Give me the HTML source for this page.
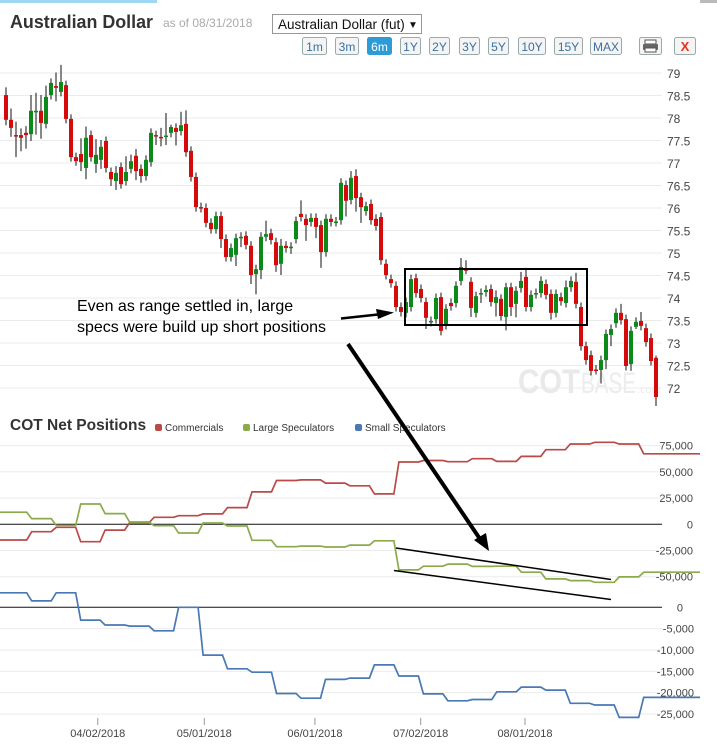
<!DOCTYPE html>
<html><head><meta charset="utf-8">
<style>
body{margin:0;background:#fff;font-family:"Liberation Sans",Arial,sans-serif;}
svg{display:block}
.btn{fill:#f4f4f4;stroke:#9aa;stroke-width:1}
.bt{font-size:12px;fill:#3a6fa0;text-anchor:middle;font-family:"Liberation Sans Narrow","Liberation Sans",sans-serif}
.ax{font-size:12px;fill:#444}
.ax2{font-size:11px;fill:#444;text-anchor:end}
</style></head><body>
<svg id="chart" width="717" height="746" viewBox="0 0 717 746" xmlns="http://www.w3.org/2000/svg">
<rect x="0" y="0" width="157" height="3" fill="#9fd8f5"/>
<rect x="700" y="0" width="17" height="3" fill="#bbb"/>
<text x="10" y="28" font-size="18" font-weight="bold" fill="#333" textLength="143" lengthAdjust="spacingAndGlyphs">Australian Dollar</text>
<text x="163" y="27" font-size="12" fill="#aaa">as of 08/31/2018</text>
<g>
<rect x="272.5" y="14.5" width="149" height="19" fill="#fff" stroke="#999"/>
<text x="278" y="29" font-size="13.5" fill="#111">Australian Dollar (fut)</text>
<text x="408" y="28" font-size="10" fill="#111">▼</text>
</g>
<g id="btns"></g>
<g id="price"></g>
<g id="cot"></g>
</svg>
<script>
// ---------- price data (daily candles) ----------
const opens=[78.51,77.96,77.62,77.62,77.67,77.64,78.13,78.16,77.87,78.51,78.71,78.58,78.73,77.98,77.13,77.20,76.89,77.62,76.98,77.07,77.49,76.80,76.60,76.91,76.60,76.87,77.16,76.87,76.71,77.02,77.62,77.58,77.60,77.67,77.78,77.71,77.87,77.27,76.69,76.02,76.00,75.67,75.53,75.82,75.31,74.91,74.96,75.33,75.38,75.16,74.53,74.62,75.36,75.44,75.24,74.76,75.16,75.13,75.31,75.87,75.76,75.69,75.78,75.62,75.02,75.76,75.69,75.73,76.51,76.18,76.71,76.24,75.93,76.09,75.76,75.80,74.76,74.42,74.27,73.80,73.67,73.80,74.44,74.20,73.91,73.47,73.53,74.02,73.40,73.89,73.89,74.38,74.64,74.36,73.67,74.09,74.13,74.20,73.89,73.98,73.58,74.24,73.87,74.22,74.47,73.80,74.09,74.11,74.31,74.09,73.67,74.02,73.89,74.24,74.36,73.80,72.93,72.73,72.41,72.40,72.62,73.18,73.44,73.67,73.53,72.53,73.36,73.49,73.33,73.11,72.67];
const closes=[77.96,77.78,77.60,77.56,77.62,78.16,78.16,77.89,78.47,78.78,78.67,78.80,77.98,77.13,77.04,77.02,77.56,77.13,77.18,77.36,76.89,76.64,76.78,76.53,76.80,77.04,76.82,76.71,77.07,77.67,77.60,77.57,77.61,77.80,77.69,77.84,77.24,76.69,76.02,76.00,75.67,75.53,75.82,75.31,74.91,75.11,75.33,75.36,75.18,74.51,74.64,75.36,75.42,75.29,74.73,75.16,75.11,75.14,75.71,75.80,75.62,75.78,75.58,75.02,75.76,75.69,75.70,76.56,76.16,76.67,76.22,76.02,76.04,75.73,75.60,74.84,74.51,74.33,73.80,73.69,73.91,74.42,74.11,74.00,73.56,73.49,74.00,73.27,73.76,73.82,74.27,74.69,74.63,73.78,74.04,74.11,74.18,73.91,74.02,73.60,74.24,73.80,74.16,74.38,73.80,74.07,74.11,74.38,74.07,73.67,74.09,73.93,74.24,74.38,73.87,72.93,72.62,72.38,72.40,72.62,73.20,73.31,73.67,73.51,72.49,73.27,73.47,73.38,73.02,72.60,71.80];
const wickUp=[0.17,0.25,0.30,0.15,0.15,0.35,0.40,0.35,0.25,0.10,0.30,0.38,0.10,0.10,0.10,0.35,0.25,0.10,0.35,0.15,0.10,0.10,0.15,0.10,0.35,0.15,0.15,0.10,0.10,0.10,0.10,0.20,0.50,0.05,0.10,0.30,0.30,0.10,0.10,0.10,0.10,0.10,0.10,0.10,0.10,0.10,0.10,0.10,0.10,0.10,0.10,0.10,0.30,0.10,0.10,0.15,0.10,0.10,0.10,0.30,0.10,0.10,0.10,0.10,0.10,0.10,0.10,0.10,0.10,0.15,0.15,0.10,0.10,0.10,0.10,0.10,0.10,0.10,0.10,0.10,0.10,0.10,0.10,0.10,0.10,0.10,0.10,0.10,0.10,0.10,0.10,0.20,0.20,0.10,0.10,0.10,0.10,0.10,0.15,0.10,0.10,0.10,0.10,0.20,0.20,0.10,0.10,0.10,0.10,0.10,0.10,0.10,0.15,0.10,0.20,0.10,0.10,0.10,0.10,0.10,0.10,0.10,0.10,0.20,0.10,0.10,0.10,0.20,0.10,0.10,0.05];
const wickDn=[0.12,0.20,0.47,0.30,0.30,0.15,0.50,0.35,0.10,0.10,0.30,0.10,0.10,0.10,0.10,0.20,0.25,0.10,0.20,0.20,0.10,0.15,0.20,0.10,0.10,0.10,0.20,0.15,0.10,0.10,0.20,0.20,0.20,0.10,0.30,0.10,0.10,0.10,0.10,0.10,0.10,0.10,0.10,0.20,0.10,0.10,0.25,0.20,0.10,0.20,0.45,0.20,0.10,0.10,0.15,0.25,0.10,0.15,0.10,0.10,0.35,0.10,0.25,0.35,0.10,0.10,0.10,0.10,0.35,0.10,0.30,0.35,0.10,0.10,0.10,0.10,0.10,0.10,0.10,0.10,0.10,0.10,0.10,0.10,0.25,0.10,0.10,0.10,0.10,0.10,0.10,0.10,0.10,0.20,0.10,0.20,0.10,0.10,0.30,0.10,0.30,0.20,0.30,0.10,0.10,0.10,0.10,0.10,0.10,0.15,0.10,0.10,0.10,0.10,0.10,0.10,0.10,0.10,0.10,0.30,0.20,0.25,0.10,0.10,0.10,0.15,0.05,0.10,0.10,0.10,0.20,0.05];
const priceTicks=[79,78.5,78,77.5,77,76.5,76,75.5,75,74.5,74,73.5,73,72.5,72];
// ---------- COT data (weekly) ----------
const commercials=[-15000,-7100,-2900,-16600,-5500,1500,6700,8200,9900,15900,30900,41800,42400,39300,36700,29000,59400,60900,59700,62600,60000,64800,71200,76600,78200,76600,67300];
const largeSpec=[11500,5400,-1000,19400,10200,2200,-1300,-8300,1200,-1600,-15300,-21400,-20800,-21700,-19800,-15700,-43500,-40000,-38000,-40200,-40000,-45700,-52100,-53700,-55300,-50200,-45700];
const smallSpec=[3400,1500,3400,-3000,-4150,-4400,-5500,0,-11200,-14400,-15200,-20200,-21300,-16900,-16600,-13500,-16100,-20300,-21900,-21600,-19800,-18700,-19400,-22500,-22900,-25800,-21100];
const upperTicks=[75000,50000,25000,0,-25000,-50000];
const lowerTicks=[0,-5000,-10000,-15000,-20000,-25000];
const dateLabels=["04/02/2018","05/01/2018","06/01/2018","07/02/2018","08/01/2018"];
const dateWeekPos=[3.7,8.05,12.57,16.89,21.15];
const rangeNames=["1m","3m","6m","1Y","2Y","3Y","5Y","10Y","15Y","MAX"];

const NS="http://www.w3.org/2000/svg";
function mk(tag,attrs,parent){const e=document.createElementNS(NS,tag);for(const k in attrs)e.setAttribute(k,attrs[k]);parent.appendChild(e);return e;}

// buttons
const bg=document.getElementById('btns');
const bx=[302,335,367,400,429,459,488,518,554,590],bw=[24,23,24,20,20,20,20,27,28,31];
rangeNames.forEach((n,i)=>{
  const g=mk('g',{},bg);
  
  
  const act=n==="6m";
  mk('rect',{x:bx[i]+.5,y:37.5,width:bw[i],height:17,rx:2,class:'btn',style:act?'fill:#2d9bd6;stroke:#2d9bd6':''},g);
  const t=mk('text',{x:bx[i]+bw[i]/2+.5,y:51,class:'bt',style:act?'fill:#fff':''},g);t.textContent=n;
});
{const g=mk('g',{},bg);
mk('rect',{x:639.5,y:37.5,width:22,height:17,rx:2,class:'btn'},g);
mk('rect',{x:645,y:40,width:11,height:4,fill:'#fff',stroke:'#555'},g);
mk('rect',{x:643,y:44,width:15,height:6,rx:1,fill:'#666'},g);
mk('rect',{x:645,y:48,width:11,height:4,fill:'#fff',stroke:'#555'},g);}
{const g=mk('g',{},bg);
mk('rect',{x:674.5,y:37.5,width:21,height:17,rx:2,class:'btn'},g);
const t=mk('text',{x:685,y:51,'text-anchor':'middle','font-size':13,'font-weight':'bold',fill:'#e8301c'},g);t.textContent="X";}

// price chart
const pg=document.getElementById('price');
const py=v=>73+(79-v)*45;
const px=i=>6+5*i;
priceTicks.forEach(v=>{
  const l=mk('line',{x1:0,x2:662,y1:py(v),y2:py(v),stroke:'#ebebeb','stroke-width':1},pg);
  
  const t=mk('text',{x:667,y:py(v)+5,class:'ax','font-size':13},pg);t.textContent=String(v);
  
});
// watermark
{const t=mk('text',{x:518,y:393,'font-size':34,'font-weight':'bold',fill:'#e9e9e9',textLength:62,lengthAdjust:'spacingAndGlyphs'},pg);t.textContent="COT";

const t2=mk('text',{x:581,y:393,'font-size':30,fill:'#ececec',textLength:55,lengthAdjust:'spacingAndGlyphs'},pg);t2.textContent="BASE";
const t3=mk('text',{x:637,y:393,'font-size':11,fill:'#ececec'},pg);t3.textContent=".com";}
opens.forEach((o,i)=>{
  const c=closes[i],up=c>=o,col=up?'#0b8a1a':'#d50a0a';
  const hi=Math.max(o,c)+wickUp[i],lo=Math.min(o,c)-wickDn[i];
  const w=mk('line',{x1:px(i),x2:px(i),y1:py(hi),y2:py(lo),stroke:'#111','stroke-width':1},pg);
  
  const h=Math.max(1.5,Math.abs(py(o)-py(c)));
  const r=mk('rect',{x:px(i)-2,y:Math.min(py(o),py(c)),width:4,height:h,fill:col},pg);
  
});
// annotations
{const r=mk('rect',{x:405,y:269,width:182,height:56,fill:'none',stroke:'#000','stroke-width':2},pg);

const a=mk('g',{},pg);
mk('line',{x1:341,y1:318.5,x2:378,y2:314.5,stroke:'#000','stroke-width':2.5},a);
mk('polygon',{points:'394,312.5 376,309 378,319',fill:'#000'},a);
const t=mk('text',{x:77,y:311,'font-size':16,fill:'#000'},pg);t.textContent="Even as range settled in, large";

const t2=mk('text',{x:77,y:332,'font-size':16,fill:'#000'},pg);t2.textContent="specs were build up short positions";
}

// COT panel
const cg=document.getElementById('cot');
{const t=mk('text',{x:10,y:430,'font-size':15.5,'font-weight':'bold',fill:'#333'},cg);t.textContent="COT Net Positions";
}
[["Commercials","#b94a48",155],["Large Speculators","#8aab4a",243],["Small Speculators","#4a78b4",355]].forEach(([n,c,x])=>{
  const g=mk('g',{},cg);
  mk('rect',{x:x,y:424,width:7,height:7,rx:2,fill:c},g);
  const t=mk('text',{x:x+10,y:431,'font-size':10,fill:'#333'},g);t.textContent=n;
});
const uy=v=>524.3-v*78.6/75000;
const ly=v=>607.3-v*106.7/25000;
upperTicks.forEach(v=>{
  const l=mk('line',{x1:0,x2:662,y1:uy(v),y2:uy(v),stroke:v===0?'#111':'#ebebeb','stroke-width':1},cg);
  
  const t=mk('text',{x:693,y:uy(v)+4,class:'ax2'},cg);t.textContent=v.toLocaleString('en-US');
  
});
lowerTicks.forEach(v=>{
  const l=mk('line',{x1:0,x2:662,y1:ly(v),y2:ly(v),stroke:v===0?'#111':'#ebebeb','stroke-width':1},cg);
  
  const t=mk('text',{x:v===0?683:694,y:ly(v)+4,class:'ax2'},cg);t.textContent=v.toLocaleString('en-US');
  
});
const wx=k=>31.7+24.48*(k-1);
function stepPts(arr,yf){
  const pts=[[0,yf(arr[0])]];
  for(let k=1;k<arr.length;k++){pts.push([wx(k)-5,yf(arr[k-1])]);pts.push([wx(k),yf(arr[k])]);}
  pts.push([700,yf(arr[arr.length-1])]);
  return pts.map(p=>p[0].toFixed(1)+','+p[1].toFixed(1)).join(' ');
}
[[commercials,uy,'#b94a48','commercials-line'],[largeSpec,uy,'#8aab4a','large-speculators-line'],[smallSpec,ly,'#4a78b4','small-speculators-line']].forEach(([a,f,c,n])=>{
  const p=mk('polyline',{points:stepPts(a,f),fill:'none',stroke:c,'stroke-width':1.7},cg);
  
});
dateLabels.forEach((d,i)=>{
  const x=wx(dateWeekPos[i]);
  const l=mk('line',{x1:x,x2:x,y1:718,y2:725,stroke:'#999'},cg);
  
  const t=mk('text',{x:x,y:737,'font-size':11,fill:'#444','text-anchor':'middle'},cg);t.textContent=d;
  
});
{const g=mk('g',{},cg);
mk('line',{x1:348,y1:344,x2:480,y2:539,stroke:'#000','stroke-width':4},g);
mk('polygon',{points:'489,551 474,540 486,533',fill:'#000'},g);
const t1=mk('line',{x1:396,y1:548,x2:611,y2:579.5,stroke:'#000','stroke-width':1.5},cg);

const t2=mk('line',{x1:394,y1:570.5,x2:611,y2:599.5,stroke:'#000','stroke-width':1.5},cg);
}
</script>
</body></html>
